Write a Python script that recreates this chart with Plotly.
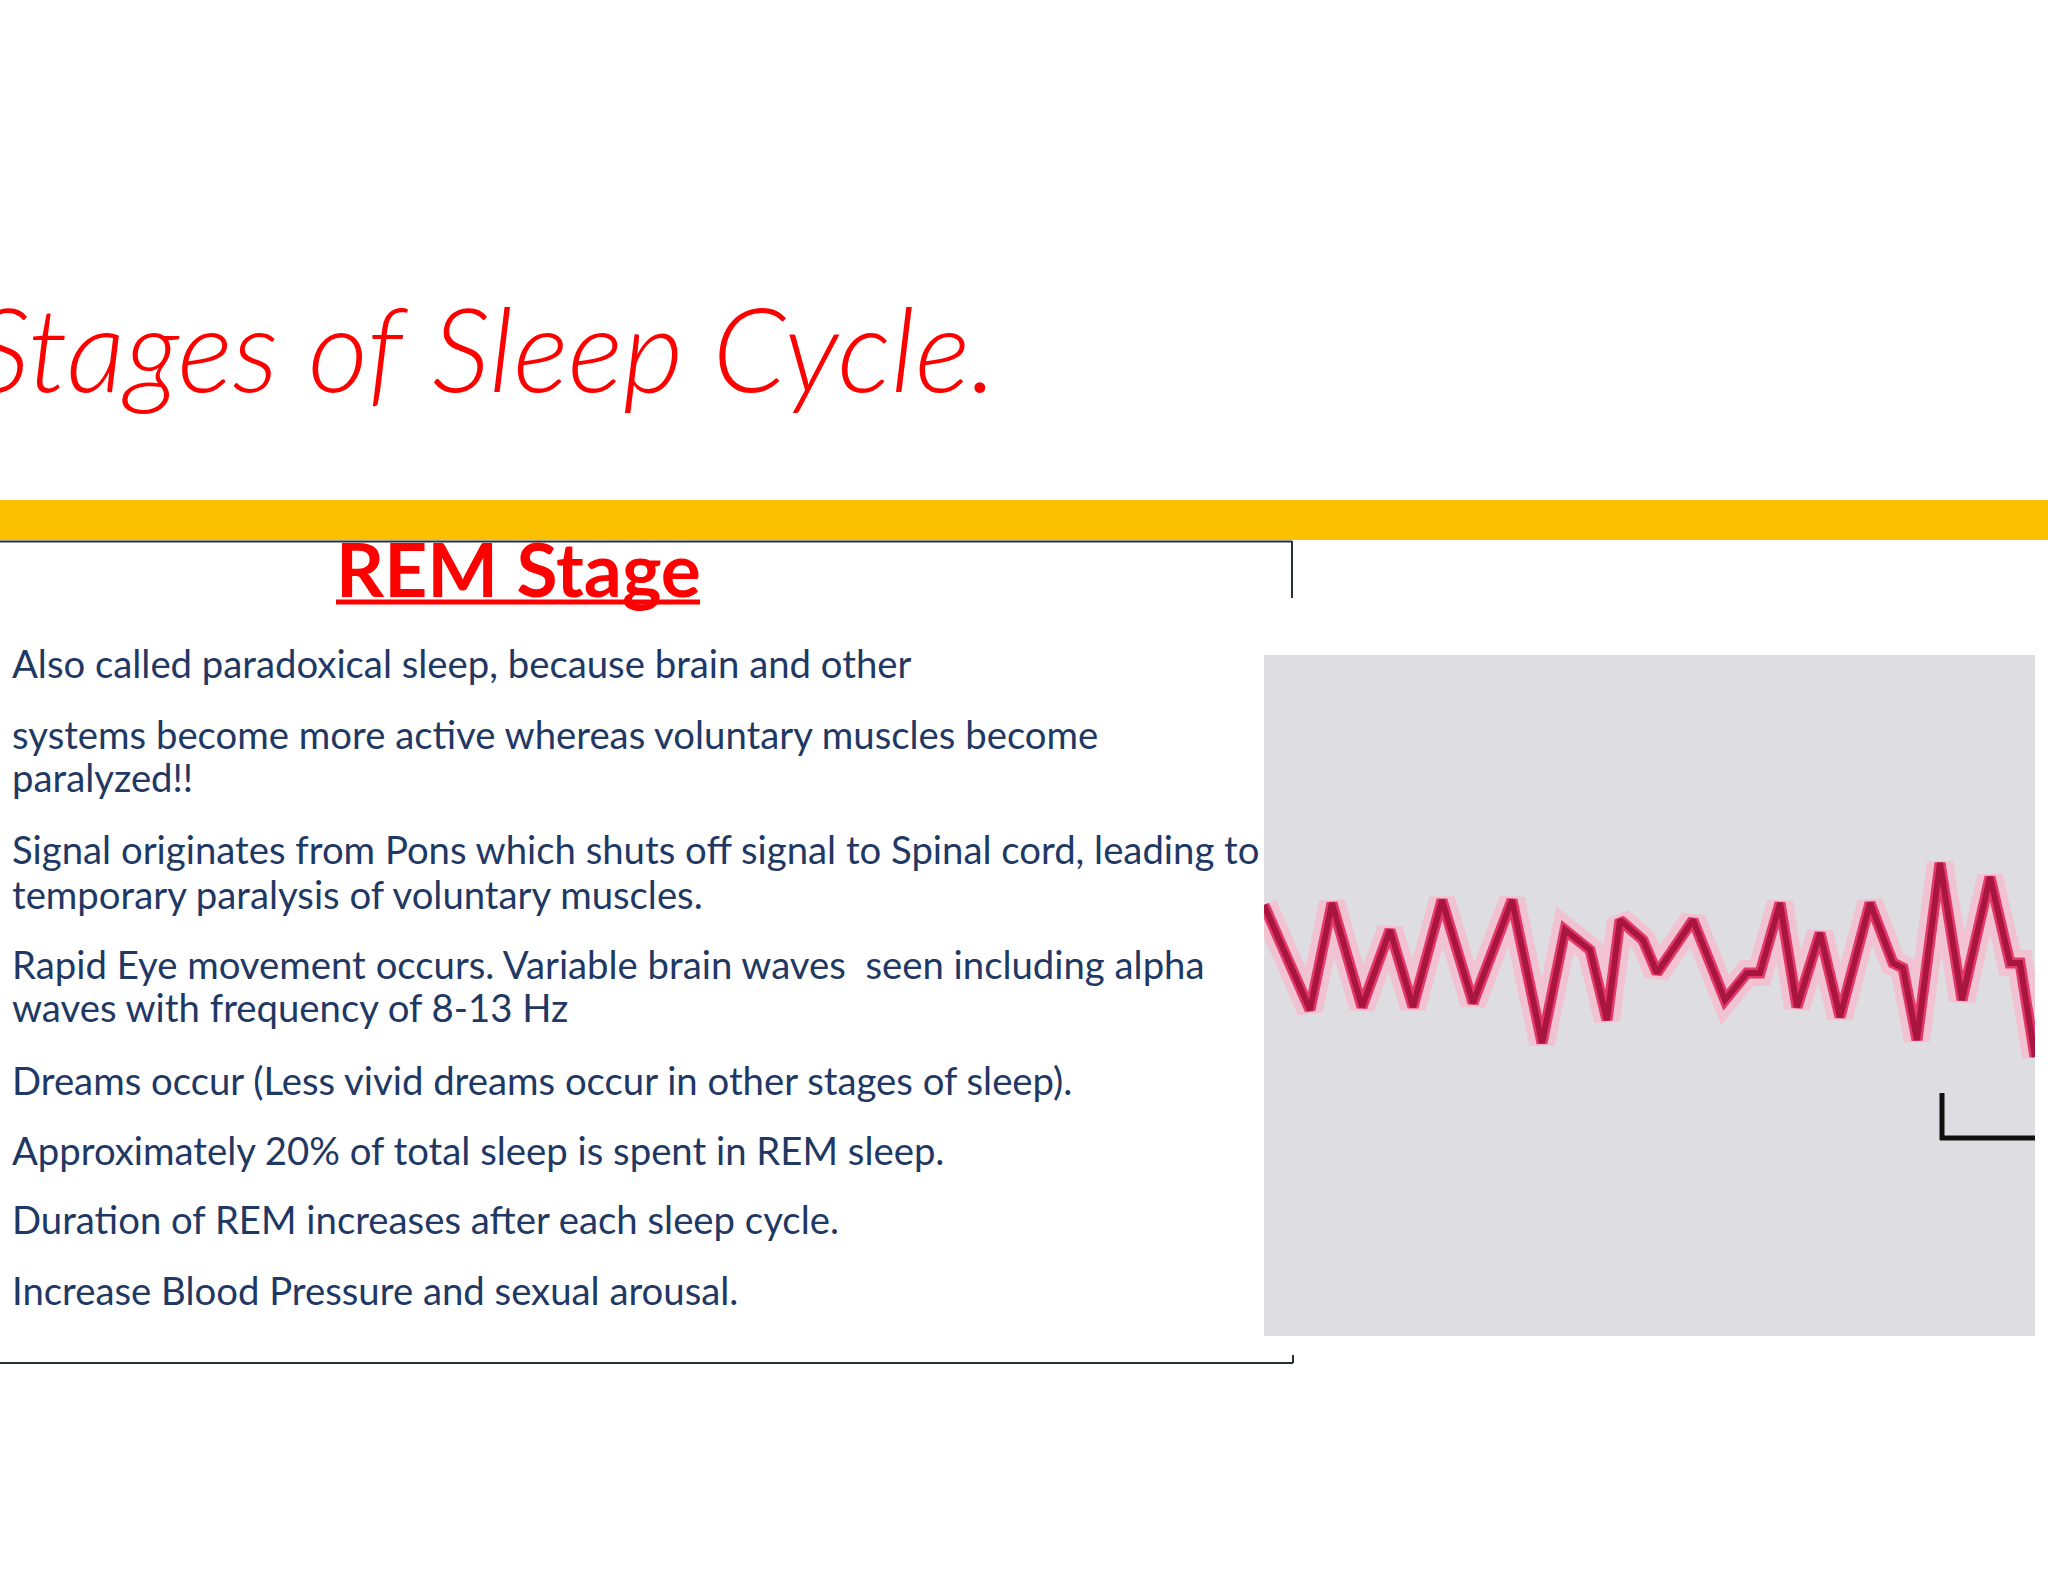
import plotly.graph_objects as go

# ---------------- data ----------------
title_text = "Stages of Sleep Cycle."
section_title = "REM Stage"
body_lines = [
    "Also called paradoxical sleep, because brain and other",
    "systems become more active whereas voluntary muscles become",
    "paralyzed!!",
    "Signal originates from Pons which shuts off signal to Spinal cord, leading to",
    "temporary paralysis of voluntary muscles.",
    "Rapid Eye movement occurs. Variable brain waves  seen including alpha",
    "waves with frequency of 8-13 Hz",
    "Dreams occur (Less vivid dreams occur in other stages of sleep).",
    "Approximately 20% of total sleep is spent in REM sleep.",
    "Duration of REM increases after each sleep cycle.",
    "Increase Blood Pressure and sexual arousal.",
]
# EEG trace (time in samples, amplitude in arbitrary units)
eeg_t = [0, 46, 68, 98, 126, 149, 178, 209, 248, 278, 301, 326, 343, 356, 379,
         393, 429, 461, 483, 496, 516, 533, 556, 576, 606, 629, 639, 653, 676,
         698, 726, 746, 756, 771]
eeg_v = [55, -50, 57, -47, 30, -47, 60, -43, 60, -83, 30, 10, -60, 40, 20,
         -13, 40, -40, -13, -13, 57, -47, 27, -57, 57, -3, -8, -80, 97,
         -40, 83, -3, -3, -97]

# ---------------- styles ----------------
W, H = 2048, 1582
RED = "#FF0000"
NAVY = "#1F3864"
YELLOW = "#FBC000"
PANEL = "#DEDDE1"

body_baselines = [676, 747, 790, 862, 907, 977, 1020, 1093, 1163, 1232, 1303]
BODY_SIZE = 38.3

fig = go.Figure()

# EEG trace: halo + mid + core
fig.add_trace(go.Scatter(x=eeg_t, y=eeg_v, mode="lines", xaxis="x2", yaxis="y2",
                         line=dict(color="rgba(250,180,200,0.65)", width=26),
                         hoverinfo="skip", showlegend=False))
fig.add_trace(go.Scatter(x=eeg_t, y=eeg_v, mode="lines", xaxis="x2", yaxis="y2",
                         line=dict(color="#E3386A", width=11),
                         hoverinfo="skip", showlegend=False))
fig.add_trace(go.Scatter(x=eeg_t, y=eeg_v, mode="lines", xaxis="x2", yaxis="y2",
                         line=dict(color="#A8163F", width=6),
                         hoverinfo="skip", showlegend=False))

shapes = [
    # yellow band
    dict(type="rect", xref="x", yref="y", x0=0, x1=W, y0=500, y1=540,
         fillcolor=YELLOW, line=dict(width=0), layer="below"),
    # text frame lines
    dict(type="line", xref="x", yref="y", x0=0, x1=1292, y0=541.5, y1=541.5,
         line=dict(color="#2B3038", width=2)),
    dict(type="line", xref="x", yref="y", x0=1292, x1=1292, y0=541, y1=598,
         line=dict(color="#2B3038", width=2)),
    dict(type="line", xref="x", yref="y", x0=0, x1=1293, y0=1363, y1=1363,
         line=dict(color="#2B3038", width=2)),
    dict(type="line", xref="x", yref="y", x0=1293, x1=1293, y0=1363, y1=1355,
         line=dict(color="#2B3038", width=2)),
    # REM Stage underline
    dict(type="line", xref="x", yref="y", x0=336, x1=700, y0=602, y1=602,
         line=dict(color=RED, width=5)),
    # EEG panel background
    dict(type="rect", xref="x2 domain", yref="y2 domain", x0=0, x1=1, y0=0, y1=1,
         fillcolor=PANEL, line=dict(width=0), layer="below"),
    # scale bar
    dict(type="line", xref="x2", yref="y2", x0=678, x1=678, y0=-133, y1=-180,
         line=dict(color="#111111", width=5)),
    dict(type="line", xref="x2", yref="y2", x0=676, x1=771, y0=-178, y1=-178,
         line=dict(color="#111111", width=5)),
]

annotations = [
    dict(text=title_text, xref="x", yref="y", x=999, y=393 + 26, xanchor="right",
         yanchor="bottom", showarrow=False,
         font=dict(family="Lato", size=117, color=RED, style="italic", weight=300)),
    dict(text="<b>" + section_title + "</b>", xref="x", yref="y", x=518, y=597 + 18,
         xanchor="center", yanchor="bottom", showarrow=False,
         font=dict(family="Lato", size=75, color=RED)),
]
for line, base in zip(body_lines, body_baselines):
    annotations.append(dict(text=line, xref="x", yref="y", x=10, y=base + 12,
                            xanchor="left", yanchor="bottom", showarrow=False,
                            font=dict(family="Lato", size=BODY_SIZE, color=NAVY)))

fig.update_layout(
    width=W, height=H,
    margin=dict(l=0, r=0, t=0, b=0),
    paper_bgcolor="white", plot_bgcolor="rgba(0,0,0,0)",
    xaxis=dict(range=[0, W], visible=False, domain=[0, 1]),
    yaxis=dict(range=[H, 0], visible=False, domain=[0, 1]),
    xaxis2=dict(range=[0, 771], visible=False, domain=[1264 / W, 2035 / W], anchor="y2"),
    yaxis2=dict(range=[-376, 305], visible=False,
                domain=[1 - 1336 / H, 1 - 655 / H], anchor="x2"),
    shapes=shapes, annotations=annotations, showlegend=False,
)

fig.write_html("out.html", config={"displayModeBar": False},
               post_script="document.body.style.margin='0';document.body.style.overflow='hidden';")
